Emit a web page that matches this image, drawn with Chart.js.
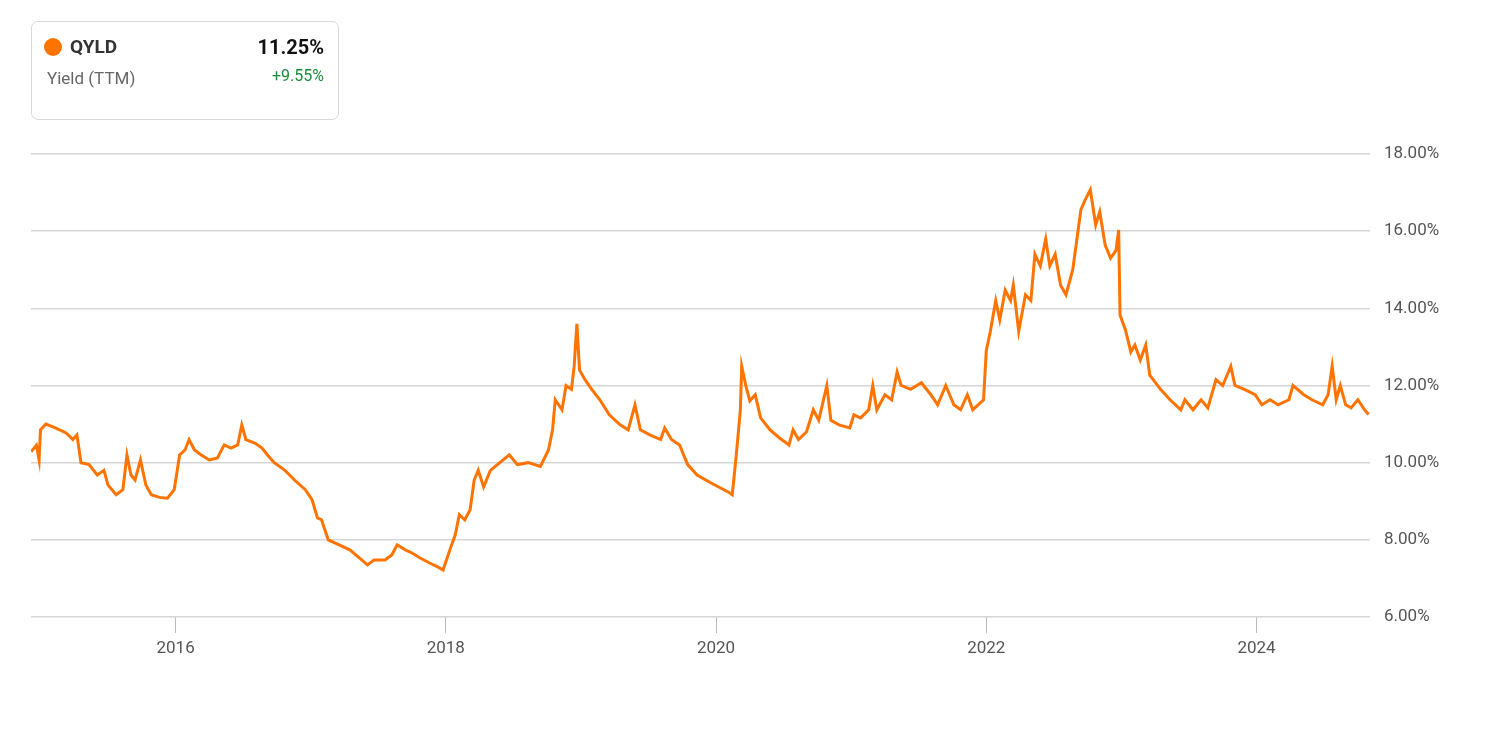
<!DOCTYPE html>
<html><head><meta charset="utf-8">
<script src="https://cdn.jsdelivr.net/npm/chart.js@4"></script>
<style>
html,body{margin:0;padding:0;background:#fff;font-family:Roboto,"Noto Sans",sans-serif;}
#wrap{position:absolute;left:0;top:0;width:1500px;height:729px;}
#box{position:absolute;left:31px;top:21px;width:308px;height:99px;border:1px solid #d8d8d8;border-radius:7px;box-sizing:border-box;}
#dot{position:absolute;left:12px;top:16px;width:18px;height:18px;border-radius:50%;background:#ff7300;}
#name{position:absolute;left:38px;top:13px;font-size:19px;font-weight:bold;color:#333;}
#val{position:absolute;right:14px;top:13px;font-size:20px;font-weight:bold;color:#111;}
#sub{position:absolute;left:15px;top:46px;font-size:17px;color:#666;}
#chg{position:absolute;right:14px;top:44px;font-size:16px;color:#1a8a3a;}
</style></head><body>
<div id="wrap"><canvas id="c" width="1500" height="729"></canvas>
<div id="box"><div id="dot"></div><div id="name">QYLD</div><div id="val">11.25%</div><div id="sub">Yield (TTM)</div><div id="chg">+9.55%</div></div></div>
<script>
const years=[2014.93,2014.97,2014.99,2015.00,2015.04,2015.11,2015.19,2015.24,2015.27,2015.30,2015.36,2015.42,2015.47,2015.50,2015.56,2015.61,2015.64,2015.67,2015.70,2015.74,2015.78,2015.82,2015.88,2015.94,2015.99,2016.03,2016.07,2016.10,2016.14,2016.19,2016.25,2016.31,2016.36,2016.41,2016.46,2016.49,2016.52,2016.59,2016.64,2016.68,2016.73,2016.81,2016.88,2016.96,2017.01,2017.05,2017.08,2017.13,2017.21,2017.29,2017.36,2017.42,2017.47,2017.55,2017.60,2017.64,2017.70,2017.75,2017.81,2017.88,2017.94,2017.98,2018.03,2018.07,2018.10,2018.14,2018.18,2018.21,2018.24,2018.28,2018.33,2018.40,2018.47,2018.53,2018.61,2018.70,2018.76,2018.79,2018.81,2018.86,2018.89,2018.93,2018.95,2018.97,2018.99,2019.03,2019.08,2019.14,2019.21,2019.29,2019.35,2019.40,2019.44,2019.51,2019.59,2019.62,2019.67,2019.73,2019.79,2019.86,2019.96,2020.03,2020.10,2020.12,2020.15,2020.18,2020.19,2020.22,2020.25,2020.29,2020.33,2020.40,2020.47,2020.54,2020.57,2020.61,2020.67,2020.72,2020.76,2020.82,2020.85,2020.91,2020.99,2021.02,2021.07,2021.13,2021.16,2021.19,2021.25,2021.30,2021.34,2021.37,2021.44,2021.52,2021.59,2021.64,2021.70,2021.76,2021.81,2021.86,2021.90,2021.98,2022.00,2022.03,2022.07,2022.10,2022.14,2022.18,2022.20,2022.24,2022.29,2022.33,2022.36,2022.40,2022.44,2022.47,2022.51,2022.55,2022.59,2022.64,2022.67,2022.70,2022.73,2022.77,2022.81,2022.84,2022.88,2022.92,2022.96,2022.98,2022.99,2023.03,2023.07,2023.10,2023.14,2023.18,2023.21,2023.29,2023.36,2023.44,2023.47,2023.53,2023.59,2023.64,2023.70,2023.75,2023.81,2023.84,2023.91,2023.99,2024.04,2024.10,2024.16,2024.24,2024.27,2024.35,2024.41,2024.49,2024.53,2024.56,2024.59,2024.62,2024.66,2024.70,2024.75,2024.80,2024.83,2024.84];
const yields=[10.28,10.45,10.07,10.85,11.0,10.9,10.77,10.6,10.72,10.0,9.95,9.68,9.8,9.42,9.17,9.3,10.2,9.68,9.55,10.07,9.42,9.17,9.1,9.08,9.3,10.2,10.33,10.6,10.33,10.2,10.07,10.12,10.46,10.38,10.46,10.98,10.6,10.5,10.38,10.2,10.0,9.8,9.55,9.3,9.04,8.57,8.52,8.0,7.87,7.74,7.53,7.35,7.48,7.48,7.61,7.87,7.74,7.66,7.53,7.4,7.3,7.22,7.74,8.13,8.65,8.52,8.78,9.55,9.8,9.37,9.8,10.0,10.2,9.95,10.0,9.9,10.33,10.85,11.63,11.37,12.0,11.9,12.5,13.6,12.4,12.15,11.9,11.63,11.24,10.98,10.85,11.5,10.85,10.72,10.6,10.9,10.6,10.46,9.95,9.68,9.48,9.35,9.22,9.17,10.2,11.37,12.5,12.0,11.6,11.76,11.16,10.85,10.64,10.46,10.85,10.6,10.8,11.37,11.1,12.0,11.1,10.98,10.9,11.24,11.16,11.37,12.0,11.37,11.76,11.63,12.35,12.0,11.9,12.07,11.76,11.5,12.0,11.5,11.37,11.76,11.37,11.63,12.9,13.4,14.2,13.7,14.47,14.2,14.6,13.4,14.35,14.2,15.4,15.1,15.8,15.1,15.4,14.6,14.35,15.0,15.77,16.55,16.8,17.07,16.16,16.5,15.64,15.3,15.5,16.03,13.83,13.44,12.87,13.05,12.66,13.05,12.27,11.9,11.63,11.37,11.63,11.37,11.63,11.42,12.15,12.0,12.5,12.0,11.9,11.76,11.5,11.63,11.5,11.63,12.0,11.76,11.63,11.5,11.76,12.5,11.63,12.0,11.5,11.42,11.63,11.37,11.25];
const yTicks=[6,8,10,12,14,16,18];
const xTicks=[2016,2018,2020,2022,2024];
const pts=years.map((x,i)=>({x:x,y:yields[i]}));
new Chart(document.getElementById('c'),{
 type:'line',
 data:{datasets:[{data:pts,borderColor:'#ff7300',borderWidth:3,pointRadius:0,tension:0,fill:false}]},
 options:{responsive:false,animation:false,
  layout:{padding:{left:31,top:154,right:0,bottom:0}},
  plugins:{legend:{display:false},tooltip:{enabled:false}},
  scales:{
   x:{type:'linear',min:2014.93,max:2024.84,
     afterBuildTicks:s=>{s.ticks=xTicks.map(v=>({value:v}));},
     afterFit:s=>{s.height=112;},
     grid:{drawOnChartArea:false,drawTicks:true,tickLength:16,color:'#bbb'},
     border:{display:false},
     ticks:{color:'#555',font:{family:'Roboto',size:17},padding:6,callback:v=>String(v),maxRotation:0}},
   y:{position:'right',min:6,max:18,
     afterBuildTicks:s=>{s.ticks=yTicks.map(v=>({value:v}));},
     afterFit:s=>{s.width=130;},
     grid:{color:'#d6d6d6',lineWidth:1.5,drawTicks:false},
     border:{display:false},
     ticks:{color:'#555',font:{family:'Roboto',size:17},padding:14,callback:v=>v.toFixed(2)+'%'}}
  }}
});
</script></body></html>
